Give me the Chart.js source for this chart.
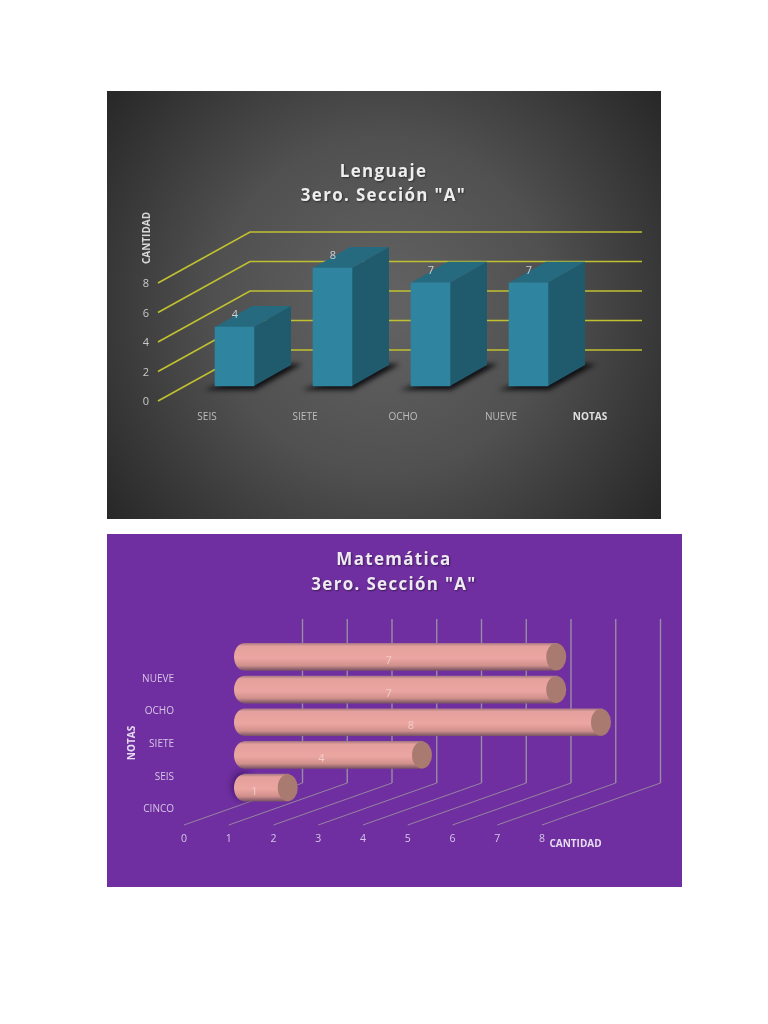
<!DOCTYPE html>
<html>
<head>
<meta charset="utf-8">
<script src="https://cdn.jsdelivr.net/npm/chart.js@4"></script>
<style>
html,body{margin:0;padding:0;background:#fff;width:768px;height:1024px;overflow:hidden}
canvas{position:absolute;display:block}
#lang{left:106px;top:91px}
#mate{left:106px;top:534px}
</style>
</head>
<body>
<canvas id="lang" width="555" height="428"></canvas>
<canvas id="mate" width="576" height="353"></canvas>
<script>
const langTitle = ['Lenguaje', '3ero. Sección "A"'];
const langCategories = ['SEIS', 'SIETE', 'OCHO', 'NUEVE'];
const langValues = [4, 8, 7, 7];
const langTicks = [0, 2, 4, 6, 8];

const mateTitle = ['Matemática', '3ero. Sección "A"'];
const mateCategories = ['CINCO', 'SEIS', 'SIETE', 'OCHO', 'NUEVE'];
const mateValues = [1, 4, 8, 7, 7];
const mateTicks = [0, 1, 2, 3, 4, 5, 6, 7, 8];

const FONT = '"Open Sans", sans-serif';
Chart.defaults.font.family = FONT;
Chart.defaults.animation = false;

function fixTitle(chart) {
  const tb = chart.titleBlock;
  tb.left = 0;
  tb.right = chart.width;
  if (!tb._spaced) {
    tb._spaced = true;
    const draw = tb.draw;
    tb.draw = function () {
      const c = this.ctx;
      c.save();
      c.letterSpacing = '1.3px';
      c.shadowColor = 'rgba(0,0,0,0.45)';
      c.shadowBlur = 2;
      c.shadowOffsetX = 1;
      c.shadowOffsetY = 1;
      draw.call(this);
      c.restore();
    };
  }
}
function axisText(ctx, text, x, y, rot, color, font) {
  ctx.save();
  ctx.translate(x, y);
  if (rot) ctx.rotate(rot);
  ctx.fillStyle = color;
  ctx.font = font;
  ctx.textAlign = 'center';
  ctx.textBaseline = 'middle';
  ctx.fillText(text, 0, 0);
  ctx.restore();
}

/* ---------- Lenguaje: 3D columns ---------- */
const G1 = {dx: 92, dy: -51};      // wall depth
const O1 = {dx: 27.5, dy: -15};    // bar position in the floor
const D1 = {dx: 37, dy: -21};      // bar depth

const columns3d = {
  id: 'columns3d',
  afterLayout: fixTitle,
  beforeDraw(chart) {
    const {ctx, width, height} = chart;
    const g = ctx.createRadialGradient(width * 0.5, height * 0.5, 20, width * 0.5, height * 0.5, 350);
    g.addColorStop(0, '#616161');
    g.addColorStop(0.45, '#505050');
    g.addColorStop(1, '#272727');
    ctx.fillStyle = g;
    ctx.fillRect(1, 0, width - 1, height);
  },
  beforeDatasetsDraw(chart) {
    const {ctx, scales: {x, y}} = chart;
    ctx.save();
    ctx.lineWidth = 1.7;
    ctx.strokeStyle = '#c0c030';
    langTicks.forEach(v => {
      const py = y.getPixelForValue(v);
      ctx.beginPath();
      ctx.moveTo(x.left, py);
      ctx.lineTo(x.left + G1.dx, py + G1.dy);
      ctx.lineTo(x.right + G1.dx, py + G1.dy);
      ctx.stroke();
    });
    ctx.filter = 'blur(2.5px)';
    ctx.fillStyle = 'rgba(8,8,12,0.9)';
    chart.getDatasetMeta(0).data.forEach(el => {
      const l = el.x - el.width / 2 + O1.dx, r = el.x + el.width / 2 + O1.dx, b = el.base + O1.dy;
      ctx.beginPath();
      ctx.moveTo(l - 11, b + 4);
      ctx.lineTo(r + 1, b + 4);
      ctx.lineTo(r + D1.dx + 11, b + D1.dy - 1);
      ctx.lineTo(r + D1.dx - 12, b + D1.dy - 1);
      ctx.closePath();
      ctx.fill();
    });
    ctx.restore();
  },
  beforeDatasetDraw(chart, args) {
    const {ctx} = chart;
    ctx.save();
    ctx.translate(O1.dx, O1.dy);
    chart.getDatasetMeta(args.index).data.forEach(el => {
      const l = el.x - el.width / 2, r = el.x + el.width / 2;
      ctx.fillStyle = '#1f5a6d';
      ctx.beginPath();
      ctx.moveTo(r, el.y);
      ctx.lineTo(r + D1.dx, el.y + D1.dy);
      ctx.lineTo(r + D1.dx, el.base + D1.dy);
      ctx.lineTo(r, el.base);
      ctx.closePath();
      ctx.fill();
      ctx.fillStyle = '#266a80';
      ctx.beginPath();
      ctx.moveTo(l, el.y);
      ctx.lineTo(l + D1.dx, el.y + D1.dy);
      ctx.lineTo(r + D1.dx, el.y + D1.dy);
      ctx.lineTo(r, el.y);
      ctx.closePath();
      ctx.fill();
    });
  },
  afterDatasetDraw(chart, args) {
    const {ctx} = chart;
    ctx.restore();
    chart.getDatasetMeta(args.index).data.forEach((el, i) => {
      axisText(ctx, String(langValues[i]), el.x + O1.dx + 0.5, el.y + O1.dy - 12, 0, '#c9d2d6', '11px ' + FONT);
    });
  },
  afterDraw(chart) {
    const {ctx} = chart;
    axisText(ctx, 'CANTIDAD', 41, 147, -Math.PI / 2, '#d8d8d8', 'bold 10px ' + FONT);
    axisText(ctx, 'NOTAS', 484, 326, 0, '#e0e0e0', 'bold 10px ' + FONT);
  }
};

new Chart(document.getElementById('lang'), {
  type: 'bar',
  data: {
    labels: langCategories,
    datasets: [{data: langValues, backgroundColor: '#2f84a0', borderWidth: 0, barThickness: 39, clip: false}]
  },
  options: {
    responsive: false,
    layout: {padding: {left: 22, right: 111, top: 0, bottom: 88}},
    plugins: {
      legend: {display: false},
      tooltip: {enabled: false},
      title: {
        display: true,
        text: langTitle,
        color: '#eeeeee',
        font: {size: 17, weight: 'bold', lineHeight: 24 / 17},
        padding: {top: 69, bottom: 75}
      }
    },
    scales: {
      x: {
        grid: {display: false, drawTicks: false},
        border: {display: false},
        ticks: {color: '#bdbdbd', font: {size: 10}, padding: 10, maxRotation: 0},
        afterFit(s) { s.height = 30; }
      },
      y: {
        min: 0,
        max: 8,
        grid: {display: false, drawTicks: false},
        border: {display: false},
        ticks: {color: '#c8c8c8', font: {size: 11}, padding: 9, stepSize: 2, labelOffset: 1},
        afterFit(s) { s.width = 30; }
      }
    }
  },
  plugins: [columns3d]
});

/* ---------- Matemática: 3D cylinders ---------- */
const G2 = {dx: 118.5, dy: -42, wall: 164}; // floor depth and wall height
const O2 = {dx: 60, dy: -21};               // bar position in the floor
const LABEL2 = {dx: 48, dy: 4};
const CAP2 = 10;

function barShade(ctx, cy, h) {
  const g = ctx.createLinearGradient(0, cy - h / 2, 0, cy + h / 2);
  g.addColorStop(0, '#a87a84');
  g.addColorStop(0.1, '#e4a09c');
  g.addColorStop(0.55, '#eca6a1');
  g.addColorStop(0.82, '#d0908c');
  g.addColorStop(1, '#7b5564');
  return g;
}

const cylinders3d = {
  id: 'cylinders3d',
  afterLayout: fixTitle,
  beforeDraw(chart) {
    const {ctx, width, height} = chart;
    ctx.fillStyle = '#702fa0';
    ctx.fillRect(1, 0, width - 1, height);
  },
  beforeDatasetsDraw(chart) {
    const {ctx, scales: {x}, chartArea} = chart;
    ctx.save();
    mateTicks.forEach(v => {
      const px = x.getPixelForValue(v);
      const bx = px + G2.dx, by = chartArea.bottom + G2.dy;
      ctx.strokeStyle = '#96849f';
      ctx.lineWidth = 1;
      ctx.beginPath();
      ctx.moveTo(px, chartArea.bottom);
      ctx.lineTo(bx, by);
      ctx.stroke();
      ctx.lineWidth = 1.4;
      ctx.strokeStyle = '#9a8ca6';
      ctx.beginPath();
      ctx.moveTo(bx, by);
      ctx.lineTo(bx, by - G2.wall);
      ctx.stroke();
    });
    ctx.restore();
  },
  beforeDatasetDraw(chart, args) {
    const {ctx} = chart;
    ctx.save();
    ctx.translate(O2.dx, O2.dy);
    chart.getDatasetMeta(args.index).data.forEach((el, i) => {
      ctx.save();
      if (i === 0) {
        ctx.shadowColor = '#3a1068';
        ctx.shadowBlur = 8;
        ctx.shadowOffsetX = -1;
        ctx.shadowOffsetY = -2;
      }
      ctx.fillStyle = barShade(ctx, el.y, el.height);
      ctx.beginPath();
      ctx.ellipse(el.base, el.y, CAP2, el.height / 2, 0, 0, Math.PI * 2);
      ctx.fill();
      ctx.restore();
    });
  },
  afterDatasetDraw(chart, args) {
    const {ctx} = chart;
    const els = chart.getDatasetMeta(args.index).data;
    els.forEach(el => {
      ctx.fillStyle = '#a87a70';
      ctx.beginPath();
      ctx.ellipse(el.x - 1, el.y, CAP2, el.height / 2, 0, 0, Math.PI * 2);
      ctx.fill();
    });
    ctx.restore();
    els.forEach((el, i) => {
      const mid = (el.x + el.base) / 2;
      axisText(ctx, String(mateValues[i]), mid + LABEL2.dx, el.y + O2.dy + LABEL2.dy, 0, '#f2ccc8', '11px ' + FONT);
    });
  },
  afterDraw(chart) {
    const {ctx} = chart;
    axisText(ctx, 'NOTAS', 26, 209, -Math.PI / 2, '#e6dcf0', 'bold 10px ' + FONT);
    axisText(ctx, 'CANTIDAD', 469.5, 310, 0, '#e6dcf0', 'bold 10px ' + FONT);
  }
};

new Chart(document.getElementById('mate'), {
  type: 'bar',
  data: {
    labels: mateCategories,
    datasets: [{
      data: mateValues,
      backgroundColor(c) {
        const chart = c.chart;
        if (!chart.chartArea || !chart.scales.y) return '#e8a09c';
        return barShade(chart.ctx, chart.scales.y.getPixelForValue(c.dataIndex), 27);
      },
      borderWidth: 0,
      barThickness: 27,
      clip: false
    }]
  },
  options: {
    indexAxis: 'y',
    responsive: false,
    layout: {padding: {left: 28, right: 140, top: 0, bottom: 32}},
    plugins: {
      legend: {display: false},
      tooltip: {enabled: false},
      title: {
        display: true,
        text: mateTitle,
        color: '#eeeaf2',
        font: {size: 17, weight: 'bold', lineHeight: 25 / 17},
        padding: {top: 13.5, bottom: 64}
      }
    },
    scales: {
      x: {
        min: 0,
        max: 8,
        grid: {display: false, drawTicks: false},
        border: {display: false},
        ticks: {color: '#d6c6e6', font: {size: 10.5}, padding: 8, stepSize: 1},
        afterFit(s) { s.height = 30; }
      },
      y: {
        reverse: true,
        grid: {display: false, drawTicks: false},
        border: {display: false},
        ticks: {color: '#d6c6e6', font: {size: 10}, padding: 10, labelOffset: 1},
        afterFit(s) { s.width = 50; }
      }
    }
  },
  plugins: [cylinders3d]
});
</script>
</body>
</html>
